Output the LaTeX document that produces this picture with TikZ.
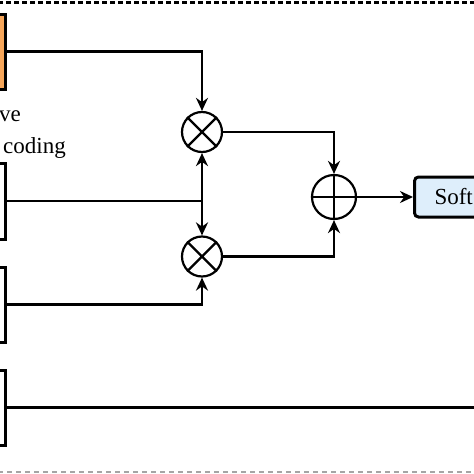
\documentclass[tikz,border=0pt]{standalone}
\usepackage{fontspec}
\setmainfont{Liberation Serif}
\usetikzlibrary{arrows.meta}
\definecolor{boxorange}{RGB}{246,166,90}
\definecolor{softblue}{RGB}{222,238,251}
\definecolor{dashgray}{RGB}{165,165,165}
\begin{document}
\begin{tikzpicture}[x=1pt,y=-1pt,
  inbox/.style={draw,line width=3pt,minimum width=30pt,inner sep=0pt,anchor=east},
  opnode/.style={draw,circle,line width=2.2pt,inner sep=0pt},
  conn/.style={line width=2.2pt},
  arr/.style={conn,-{Stealth[length=13pt,width=12pt]}},
  lbl/.style={font=\fontsize{23}{27}\selectfont,inner sep=0pt,anchor=base west},
  softbox/.style={draw,line width=3pt,rounded corners=4pt,fill=softblue,
    font=\fontsize{23}{27}\selectfont,text width=60pt,align=left,inner xsep=20pt,
    minimum height=40pt,anchor=west}]
\useasboundingbox (0,0) rectangle (474,474);
% dashed frame lines
\draw[line width=3.5pt,dash pattern=on 5pt off 3pt] (-2,2.5) -- (480,2.5);
\draw[dashgray,line width=1.8pt,dash pattern=on 5pt off 4pt] (-2,472) -- (480,472);
% input boxes
\node[inbox,fill=boxorange,minimum height=75pt] (b1) at (7,51.5) {};
\node[inbox,fill=white,minimum height=76pt] (b2) at (7,201) {};
\node[inbox,fill=white,minimum height=75pt] (b3) at (7,304.5) {};
\node[inbox,fill=white,minimum height=75pt] (b4) at (7,407.5) {};
% labels
\node[lbl] (t1) at (-1,121) {ve};
\node[lbl] (t2) at (3,153) {coding};
% operators
\node[opnode,minimum size=40pt] (m1) at (202,132) {};
\node[opnode,minimum size=40pt] (m2) at (202,256.5) {};
\node[opnode,minimum size=44pt] (ad) at (334,197) {};
\draw[conn] (m1.north west) -- (m1.south east) (m1.north east) -- (m1.south west);
\draw[conn] (m2.north west) -- (m2.south east) (m2.north east) -- (m2.south west);
\draw[conn] (ad.north) -- (ad.south) (ad.west) -- (ad.east);
% softmax box
\node[softbox] (sm) at (413,197) {Soft};
% connectors
\coordinate (j) at (202,201);
\draw[arr] (b1.east) -| (m1.north);
\draw[conn] (b2.east) -- (j);
\draw[arr] (j) -- (m1.south);
\draw[arr] (j) -- (m2.north);
\draw[arr] (b3.east) -| (m2.south);
\coordinate (e4) at (480,407.5);
\draw[conn] (b4.east) -- (e4);
\draw[arr] (m1.east) -| (ad.north);
\draw[arr] (m2.east) -| (ad.south);
\draw[arr] (ad.east) -- (sm.west);
\end{tikzpicture}
\end{document}
